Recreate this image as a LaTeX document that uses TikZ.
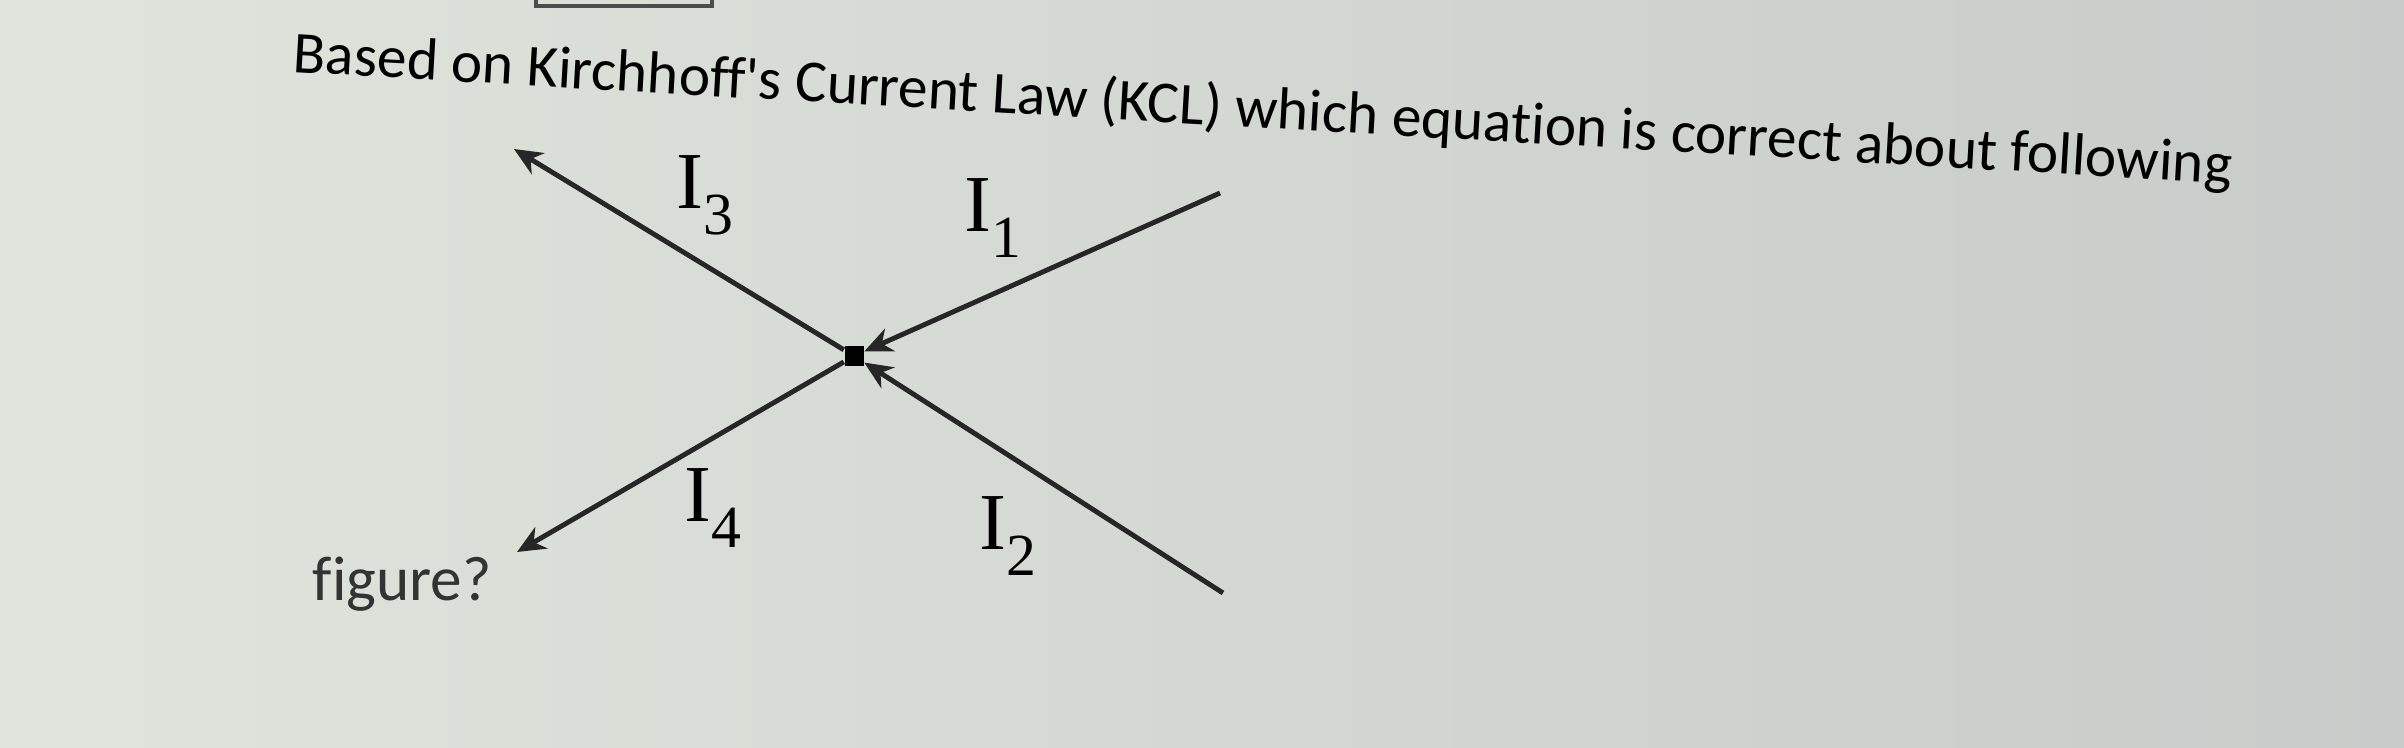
\documentclass[tikz,border=0pt]{standalone}
\usepackage{fontspec}
\setmainfont{Carlito}[Ligatures={NoCommon,TeXOff}]
\newfontfamily\labelfont{Liberation Serif}
\usetikzlibrary{arrows.meta}
\definecolor{screenleft}{RGB}{224,228,220}
\definecolor{screenright}{RGB}{199,204,202}
\newcommand{\cur}[1]{{\labelfont\fontsize{23}{26}\selectfont I\raisebox{-0.32em}{\fontsize{17}{19}\selectfont #1}}}
\tikzset{
  wire/.style={line width=1.4pt, black!85},
  tip/.style={-{Stealth[length=8pt,width=7pt,inset=2.5pt]}},
}
\begin{document}
\begin{tikzpicture}
        \shade
          [left color=screenleft, right color=screenright]
          (0,0) rectangle (24.04,-7.48)
        ;
        \useasboundingbox (0,0) rectangle (24.04,-7.48);
        % edge of a box at the top
        \draw
          [line width=1.2pt, black!70]
          (5.36,0.1) -- (5.36,-0.06) -- (7.12,-0.06) -- (7.12,0.1)
        ;
        \node
          [anchor=base west, rotate=-3.3, inner sep=0pt, font=\fontsize{16.9}{20}\selectfont]
          (question) at (2.92,-0.72)
          {Based on Kirchhoff's Current Law (KCL) which equation is correct about following};
        \node
          [anchor=base west, inner sep=0pt, font=\fontsize{18}{21}\selectfont, black!80]
          (question end) at (3.12,-6.0)
          {figure?};
        \node
          [name=junction, fill=black, inner sep=0pt, minimum size=0.19cm]
          at (8.54,-3.56) {};
        \coordinate (end1) at (12.20,-1.93);
        \coordinate (end2) at (12.23,-5.93);
        \coordinate (end3) at (5.14,-1.49);
        \coordinate (end4) at (5.17,-5.52);
        \draw [wire,tip]
          (end1) -- (junction)
        ;
        \draw [wire,tip]
          (end2) -- (junction)
        ;
        \draw [wire,tip]
          (junction) -- (end3)
        ;
        \draw [wire,tip]
          (junction) -- (end4)
        ;
        \node (label3) at (7.05,-1.95) {\cur{3}};
        \node (label1) at (9.93,-2.18) {\cur{1}};
        \node (label4) at (7.13,-5.08) {\cur{4}};
        \node (label2) at (10.08,-5.36) {\cur{2}};
      \end{tikzpicture}
\end{document}
